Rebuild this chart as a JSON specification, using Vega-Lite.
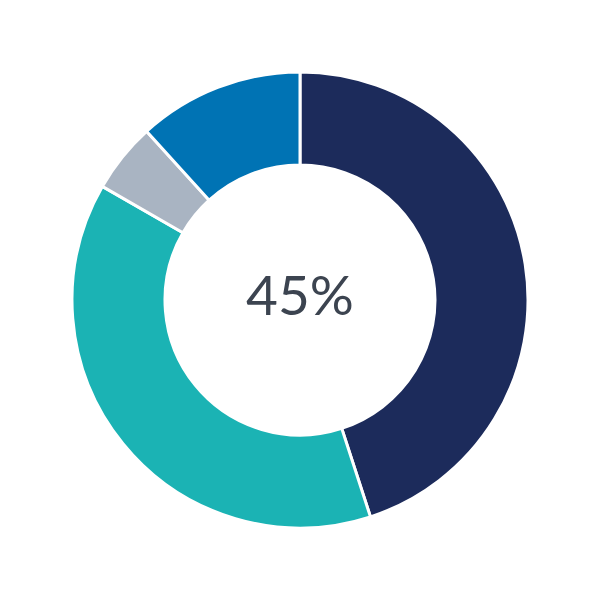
{
  "$schema": "https://vega.github.io/schema/vega-lite/v6.json",
  "width": 600,
  "height": 600,
  "autosize": {"type": "fit", "contains": "padding"},
  "padding": 0,
  "background": "white",
  "view": {"stroke": null},
  "data": {
    "values": [
      {"cat": "A", "order": 1, "value": 45},
      {"cat": "B", "order": 2, "value": 38.3},
      {"cat": "C", "order": 3, "value": 4.95},
      {"cat": "D", "order": 4, "value": 11.75}
    ]
  },
  "layer": [
    {
      "mark": {"type": "arc", "outerRadius": 228, "innerRadius": 135, "stroke": "white", "strokeWidth": 3},
      "encoding": {
        "theta": {"field": "value", "type": "quantitative", "stack": true},
        "order": {"field": "order", "type": "quantitative"},
        "color": {
          "field": "cat",
          "type": "nominal",
          "scale": {"domain": ["A", "B", "C", "D"], "range": ["#1c2b5b", "#1bb3b4", "#a9b4c2", "#0073b4"]},
          "legend": null
        }
      }
    },
    {
      "data": {"values": [{"label": "45%"}]},
      "mark": {"type": "text", "font": "Lato", "fontSize": 55, "color": "#3c4450", "align": "center", "baseline": "middle", "dy": -2},
      "encoding": {"text": {"field": "label"}}
    }
  ]
}
